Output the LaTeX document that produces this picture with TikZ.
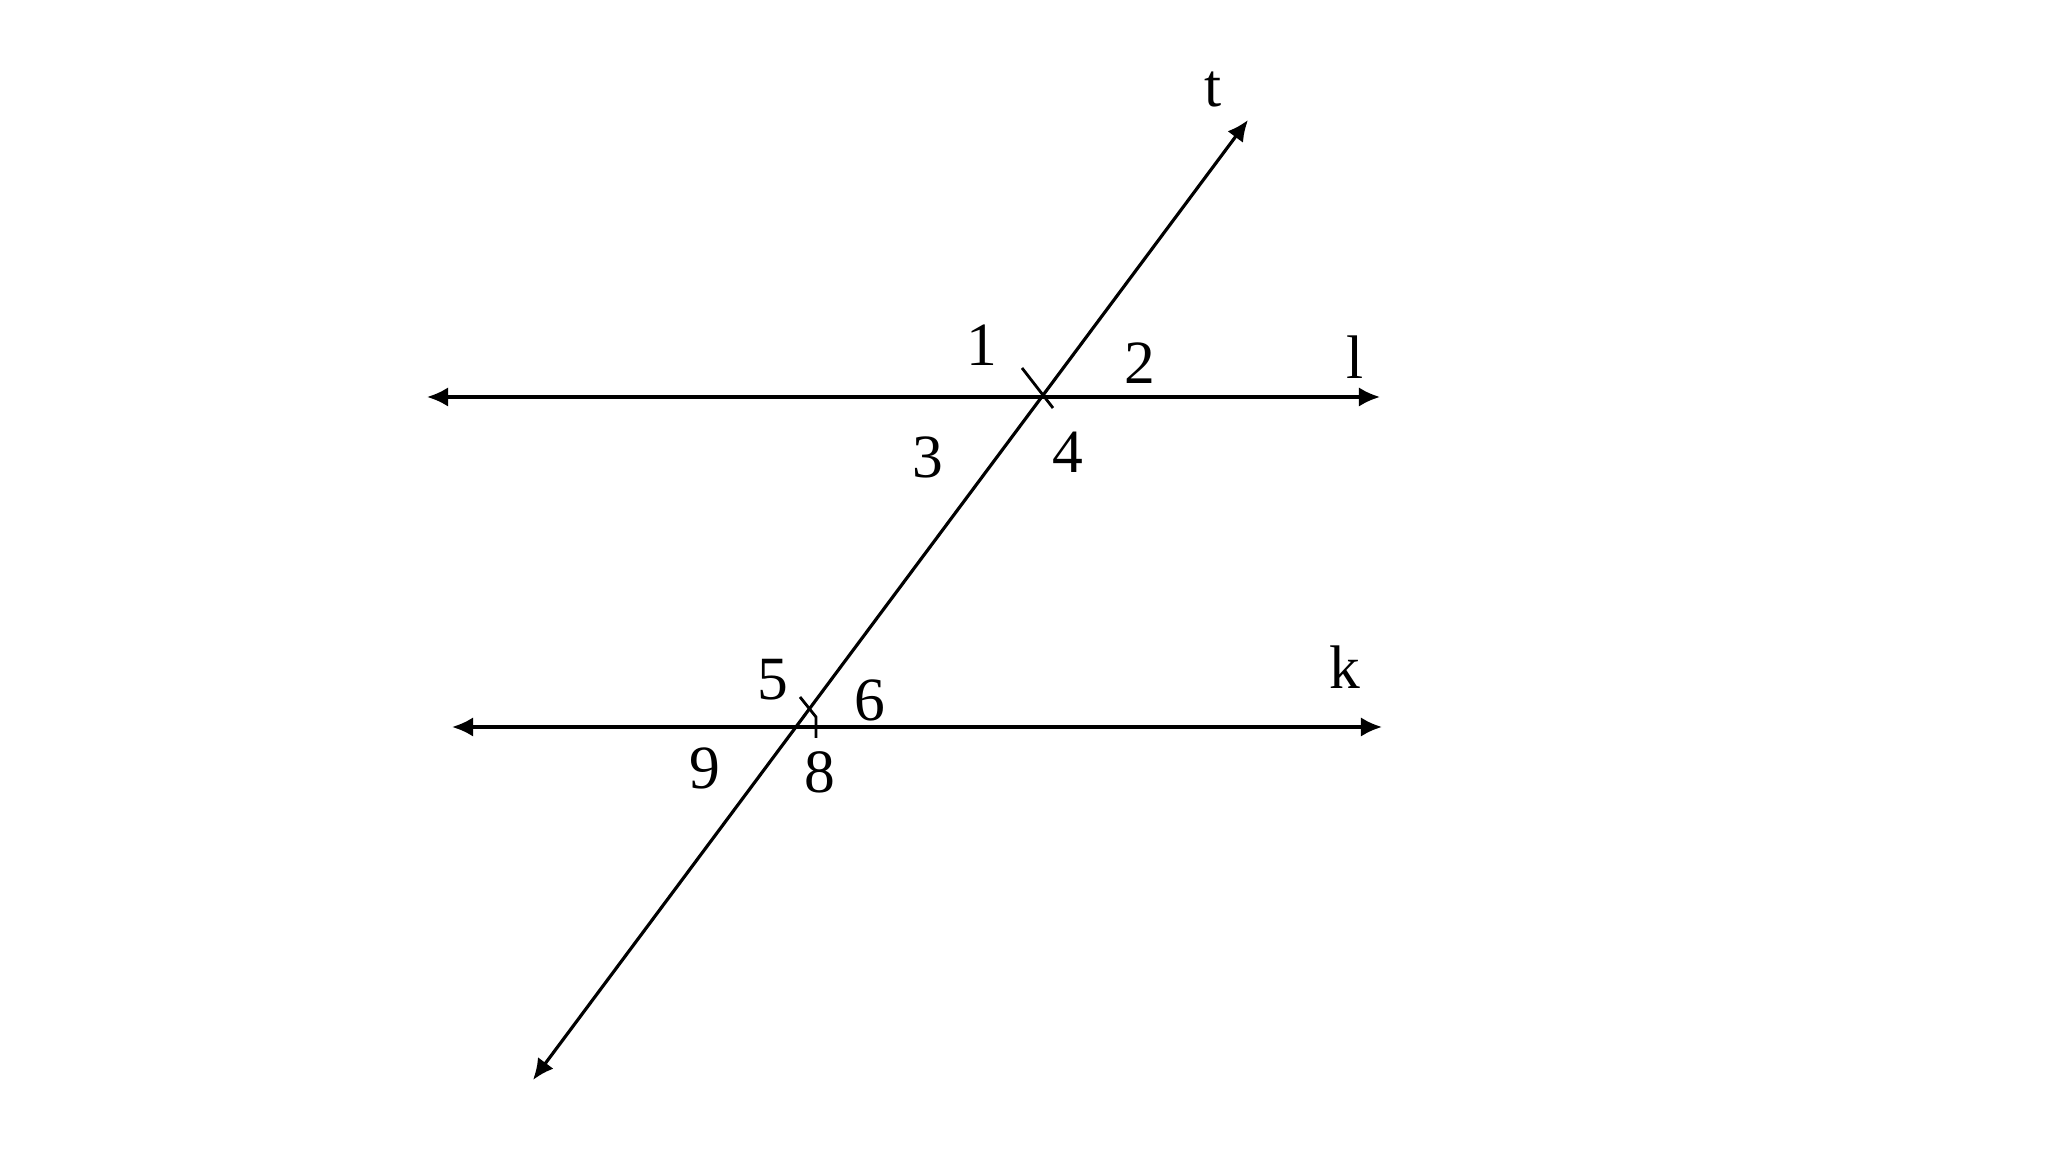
\documentclass[tikz,border=0pt]{standalone}
\usepackage{fontspec}
\setmainfont{Liberation Serif}
\usetikzlibrary{arrows.meta}
\newlength{\basisparallellines}
\setlength{\basisparallellines}{1cm}

\begin{document}
\begin{tikzpicture}[
    line/.style={line width=0.9pt, {Latex[length=6pt,width=5.5pt]}-{Latex[length=6pt,width=5.5pt]}},
    tickmark/.style={line width=0.8pt},
    anglelabel/.style={inner sep=0pt, font=\fontsize{17.5}{20}\selectfont}]
    \useasboundingbox (0,0) rectangle (20.48\basisparallellines,11.52\basisparallellines);

    % ends of the three lines
    \coordinate (l-left) at (4.27\basisparallellines,7.55\basisparallellines);
    \coordinate (l-right) at (13.80\basisparallellines,7.55\basisparallellines);
    \coordinate (k-left) at (4.52\basisparallellines,4.25\basisparallellines);
    \coordinate (k-right) at (13.82\basisparallellines,4.25\basisparallellines);
    \coordinate (t-bottom) at (5.33\basisparallellines,0.72\basisparallellines);
    \coordinate (t-top) at (12.48\basisparallellines,10.32\basisparallellines);

    \draw[line] (l-left) -- (l-right);
    \draw[line] (k-left) -- (k-right);
    \draw[line] (t-bottom) -- (t-top);

    % small marks at the crossings
    \draw[tickmark] (10.22\basisparallellines,7.84\basisparallellines) -- (10.53\basisparallellines,7.44\basisparallellines);
    \draw[tickmark] (8.00\basisparallellines,4.55\basisparallellines) -- (8.16\basisparallellines,4.35\basisparallellines) -- (8.16\basisparallellines,4.14\basisparallellines);

    \draw (12.13\basisparallellines,10.62\basisparallellines) node[anglelabel] (label-t) {t};
    \draw (13.55\basisparallellines,7.95\basisparallellines) node[anglelabel] (label-l) {l};
    \draw (13.45\basisparallellines,4.85\basisparallellines) node[anglelabel] (label-k) {k};

    \draw (9.82\basisparallellines,8.07\basisparallellines) node[anglelabel] (angle-1) {1};
    \draw (11.40\basisparallellines,7.89\basisparallellines) node[anglelabel] (angle-2) {2};
    \draw (9.28\basisparallellines,6.95\basisparallellines) node[anglelabel] (angle-3) {3};
    \draw (10.68\basisparallellines,7.00\basisparallellines) node[anglelabel] (angle-4) {4};
    \draw (7.73\basisparallellines,4.72\basisparallellines) node[anglelabel] (angle-5) {5};
    \draw (8.70\basisparallellines,4.52\basisparallellines) node[anglelabel] (angle-6) {6};
    \draw (8.20\basisparallellines,3.80\basisparallellines) node[anglelabel] (angle-8) {8};
    \draw (7.05\basisparallellines,3.84\basisparallellines) node[anglelabel] (angle-9) {9};
\end{tikzpicture}
\end{document}
